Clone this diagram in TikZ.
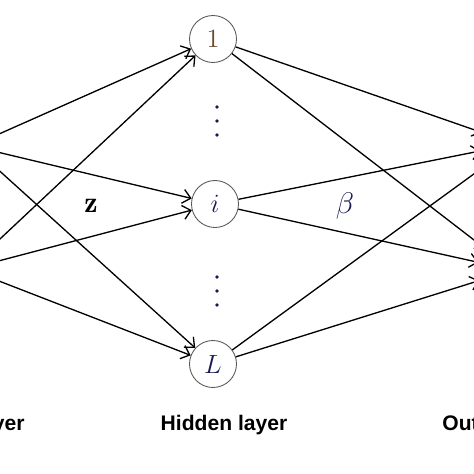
\RequirePackage{fix-cm}
\documentclass[tikz,border=0pt]{standalone}
\usepackage{fontspec}
\newfontfamily\layerfont{Liberation Sans}
\usetikzlibrary{arrows.meta}
\definecolor{navy}{RGB}{25,25,85}
\definecolor{rust}{RGB}{110,72,38}
\tikzset{
	neuron/.style={circle,draw=black!65,line width=0.5pt,minimum size=0.94cm,inner sep=0pt,font=\fontsize{15}{18}\selectfont},
	outneuron/.style={circle,minimum size=1.4cm,inner sep=0pt},
	wire/.style={line width=0.75pt,-{Straight Barb[length=4.5pt,width=8pt]}},
	layerlabel/.style={inner sep=0pt,font=\layerfont\bfseries\fontsize{12}{14}\selectfont}
}
\begin{document}
\begin{tikzpicture}[x=0.02cm,y=-0.02cm]
	\useasboundingbox (0,0) rectangle (474,474);
	% input, hidden and output neurons
	\node[neuron] (x1) at (-28,146){};
	\node[neuron] (x2) at (-32,269){};
	\node[neuron] (h1) at (213,39){\textcolor{rust}{$1$}};
	\node[neuron] (hi) at (215,204){\textcolor{navy}{$i$}};
	\node[neuron] (hL) at (213,364){\textcolor{navy}{$L$}};
	\node[outneuron] (y1) at (515,144){};
	\node[outneuron] (y2) at (513,270){};
	% weights
	\foreach \a in {x1,x2} \foreach \b in {h1,hi,hL} \draw[wire] (\a)--(\b);
	\foreach \a in {h1,hi,hL} \foreach \b in {y1,y2} \draw[wire] (\a)--(\b);
	\foreach \y in {107,121,135,277,291,305} \fill[navy] (217,\y) circle[radius=1.1pt];
	\node (zlab) at (91,206){\fontsize{17}{20}\selectfont $\mathbf{z}$};
	\node (blab) at (345,206){\fontsize{17}{20}\selectfont \textcolor{navy}{$\beta$}};
	% layer names
	\node[layerlabel,anchor=base east] (inlab) at (25,430){Input layer};
	\node[layerlabel,anchor=base] (hidlab) at (224,430){Hidden layer};
	\node[layerlabel,anchor=base west] (outlab) at (442,430){Output layer};
\end{tikzpicture}
\end{document}
